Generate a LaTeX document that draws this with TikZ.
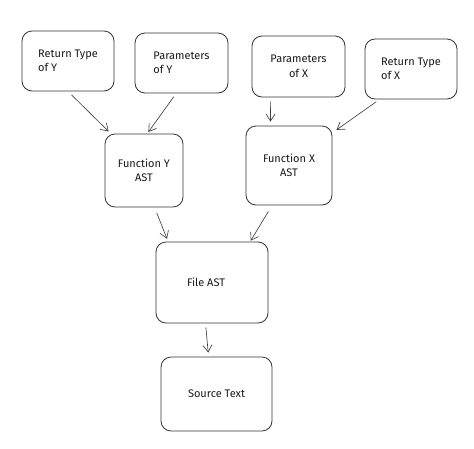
\documentclass[tikz,border=0pt]{standalone}
\usepackage{fontspec}
\setmainfont{Fira Sans}
\usepackage{tikz}
\usetikzlibrary{arrows,arrows.meta}
\tikzset{box/.style={draw=black!80,line width=0.8pt,rounded corners=10pt,text=black!90,
    font=\fontsize{11}{14.5}\selectfont},
  conn/.style={draw=black!75,line width=0.65pt,-{Straight Barb[length=7pt,width=9pt]}}}
\begin{document}
\begin{tikzpicture}[x=1pt,y=-1pt]
    \useasboundingbox (0,0) rectangle (474,448);
    \node[box,minimum width=92pt,minimum height=60pt,align=left] (rty) at (68,61) {Return Type\\of Y};
    \node[box,minimum width=93pt,minimum height=60pt,align=left] (pty) at (181.5,63) {Parameters\\of Y};
    \node[box,minimum width=93pt,minimum height=61pt,align=center] (ptx) at (298.5,66.5) {Parameters\\of X};
    \node[box,minimum width=92pt,minimum height=60pt,align=left] (rtx) at (411,69) {Return Type\\of X};
    \node[box,minimum width=78pt,minimum height=73pt,align=center] (fny) at (144,170.5) {Function Y\\AST};
    \node[box,minimum width=86pt,minimum height=79pt,align=center] (fnx) at (289,165.5) {Function X\\AST};
    \node[box,minimum width=112pt,minimum height=81pt] (file) at (212,282.5) {\hspace*{-12pt}File AST};
    \node[box,minimum width=111pt,minimum height=74pt] (src) at (216.5,394) {Source Text};
    \draw[conn,shorten <=5pt,shorten >=3pt] (rty.south) -- (fny.132);
    \draw[conn,shorten <=4pt,shorten >=2pt] (pty.260) -- (fny.85);
    \draw[conn,shorten <=4pt,shorten >=4pt] (ptx.228) -- (fnx.115);
    \draw[conn,shorten <=4pt,shorten >=5pt] (rtx.224) -- (fnx.37);
    \draw[conn,shorten <=6pt,shorten >=3pt] (fny.286) -- (file.137);
    \draw[conn,shorten <=7pt,shorten >=1pt] (fnx.247) -- (file.47);
    \draw[conn,shorten <=4pt,shorten >=4pt] (file.261) -- (src.102);
\end{tikzpicture}
\end{document}
